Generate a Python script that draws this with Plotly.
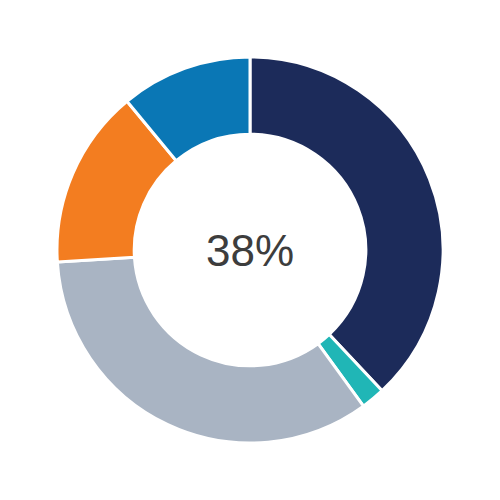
import plotly.graph_objects as go

# slice shares, clockwise from 12 o'clock
labels = ["A", "B", "C", "D", "E"]
values = [38, 2, 34, 15, 11]
colors = ["#1c2b5a", "#20b6b6", "#a9b4c3", "#f37d20", "#0a77b5"]
center_text = "38%"

fig = go.Figure(go.Pie(
    labels=labels,
    values=values,
    hole=0.6,
    sort=False,
    direction="clockwise",
    rotation=0,
    marker=dict(colors=colors, line=dict(color="white", width=3)),
    textinfo="none",
    hoverinfo="label+percent",
))

fig.add_annotation(text=center_text, x=0.5, y=0.5, xref="paper", yref="paper",
                   showarrow=False,
                   font=dict(family="Liberation Sans, Arial", size=44, color="#3d3d3d"))

# page body has an 8px margin, so shift the plot area up/left by that much
fig.update_layout(
    width=500, height=500,
    margin=dict(l=49, r=65, t=49, b=65),
    showlegend=False,
    paper_bgcolor="white",
    plot_bgcolor="white",
)

fig.write_html("out.html")
